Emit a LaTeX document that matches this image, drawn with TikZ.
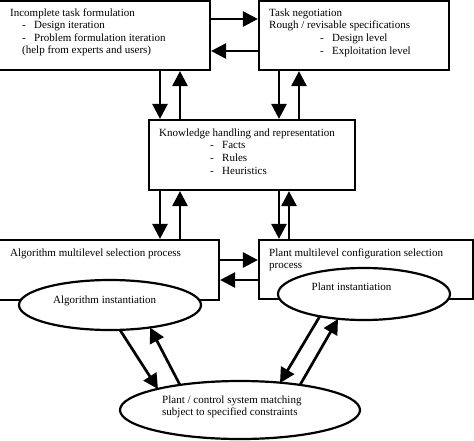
\documentclass[tikz,border=0pt]{standalone}
\usepackage{fontspec}
\setmainfont{Liberation Serif}
\usetikzlibrary{arrows.meta,shapes.geometric,calc}
\begin{document}
\begin{tikzpicture}[x=1pt,y=-1pt,
 box/.style={draw,line width=2.2pt,rectangle,inner sep=0},
 oval/.style={draw,line width=2.2pt,ellipse,fill=white,inner sep=0},
 lbl/.style={anchor=base west,inner sep=0,font=\fontsize{11}{12}\selectfont},
 arr/.style={line width=2.7pt,-{Triangle[length=15pt,width=15pt]}}]
\useasboundingbox (0,0) rectangle (474,440);
% boxes
\node[box,minimum width=213pt,minimum height=69pt] (tl) at (103.5,35.5) {};
\node[box,minimum width=190pt,minimum height=69pt] (tr) at (354,35.5) {};
\node[box,minimum width=206pt,minimum height=70pt] (kh) at (252,155) {};
\node[box,minimum width=222pt,minimum height=60pt] (bl) at (108,270) {};
\node[box,minimum width=214pt,minimum height=59pt] (br) at (366,269.5) {};
% ellipses
\node[oval,minimum width=182pt,minimum height=50pt] (alg) at (110,305) {};
\node[oval,minimum width=172pt,minimum height=52pt] (pi) at (364,294) {};
\node[oval,minimum width=240pt,minimum height=58pt] (pcm) at (240,410) {};
% arrows top
\draw[arr] (tl.east |- 0,19) -- (tr.west |- 0,19);
\draw[arr] (tr.west |- 0,51) -- (tl.east |- 0,51);
\draw[arr] (tl.south -| 160,0) -- (kh.north -| 160,0);
\draw[arr] (kh.north -| 180,0) -- (tl.south -| 180,0);
\draw[arr] (tr.south -| 279,0) -- (kh.north -| 279,0);
\draw[arr] (kh.north -| 299,0) -- (tr.south -| 299,0);
% arrows middle
\draw[arr] (kh.south -| 160,0) -- (bl.north -| 160,0);
\draw[arr] (bl.north -| 180,0) -- (kh.south -| 180,0);
\draw[arr] (kh.south -| 279,0) -- (br.north -| 279,0);
\draw[arr] (br.north -| 289,0) -- (kh.south -| 289,0);
\draw[arr] (bl.east |- 0,260) -- (br.west |- 0,260);
\draw[arr] (br.west |- 0,280) -- (bl.east |- 0,280);
% diagonal arrows
\draw[arr] ($(alg.center)+(10,25)$) -- ($(pcm.center)+(-82,-21)$);
\draw[arr] ($(pcm.center)+(-60,-25)$) -- ($(alg.center)+(40,22.5)$);
\draw[arr] ($(pi.center)+(-44,22)$) -- ($(pcm.center)+(40,-27)$);
\draw[arr] ($(pcm.center)+(60,-25)$) -- ($(pi.center)+(-26,25)$);
% texts
\node[lbl] (t1) at (10,16.2) {Incomplete task formulation};
\node[lbl] (t2) at (22,28.5) {\makebox[12pt][l]{-}Design iteration};
\node[lbl] (t3) at (22,41) {\makebox[12pt][l]{-}Problem formulation iteration};
\node[lbl] (t4) at (22,53.5) {(help from experts and users)};
\node[lbl] (r1) at (269,16.2) {Task negotiation};
\node[lbl] (r2) at (269,28.5) {Rough / revisable specifications};
\node[lbl] (r3) at (320,41) {\makebox[12pt][l]{-}Design level};
\node[lbl] (r4) at (320,54) {\makebox[12pt][l]{-}Exploitation level};
\node[lbl] (k1) at (159,136) {Knowledge handling and representation};
\node[lbl] (k2) at (210,148.5) {\makebox[12pt][l]{-}Facts};
\node[lbl] (k3) at (210,161) {\makebox[12pt][l]{-}Rules};
\node[lbl] (k4) at (210,174) {\makebox[12pt][l]{-}Heuristics};
\node[lbl] (b1) at (10,256) {Algorithm multilevel selection process};
\node[lbl] (p1) at (269,256) {Plant multilevel configuration selection};
\node[lbl] (p2) at (269,268) {process};
\node[lbl] (a1) at (53,303) {Algorithm instantiation};
\node[lbl] (q1) at (311.5,290) {Plant instantiation};
\node[lbl] (m1) at (162,403.5) {Plant / control system matching};
\node[lbl] (m2) at (162,415.5) {subject to specified constraints};
\end{tikzpicture}
\end{document}
